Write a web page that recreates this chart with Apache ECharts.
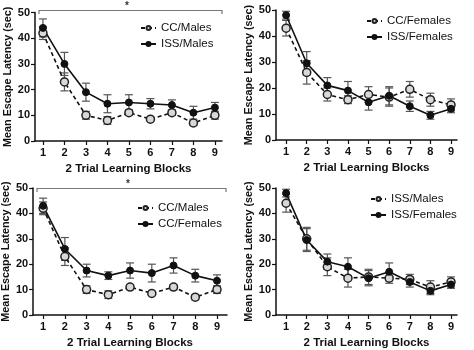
<!DOCTYPE html>
<html><head><meta charset="utf-8">
<script src="https://cdn.jsdelivr.net/npm/echarts@6/dist/echarts.min.js"></script>
<style>html,body{margin:0;padding:0;background:#fff}#c{width:474px;height:350px}</style>
</head><body><div id="c"></div>
<script>
const blocks = [1,2,3,4,5,6,7,8,9];
const yTicks = [0,10,20,30,40,50];
const ccMales      = [42, 23, 10, 8, 11, 8.5, 11, 7, 10];
const ccMalesErr   = [2.5, 3.5, 1.5, 1.5, 1, 0.7, 1, 1, 1.5];
const issMales     = [44, 30, 19, 14.5, 15, 14.5, 14, 11, 13];
const issMalesErr  = [3.5, 4.5, 3.5, 3.5, 3, 2, 2, 2.5, 2];
const ccFemales    = [43, 26, 17.5, 15.5, 17.5, 16.5, 19.5, 15.5, 13.5];
const ccFemalesErr = [3, 4.5, 2.5, 1.5, 3, 3.5, 3, 2.5, 2.3];
const issFemales   = [48, 29.5, 21, 19, 14.5, 17, 13, 9.5, 12];
const issFemalesErr= [1.5, 4.5, 3, 3.5, 3, 3.5, 2, 1.5, 1.5];

const panels = [
  {grid:{left:35, top:12.5, width:187, height:128.5}, xr:[0.63,9.33], a:['CC/Males',ccMales,ccMalesErr], b:['ISS/Males',issMales,issMalesErr], leg:{left:135, top:17}},
  {grid:{left:276, top:10, width:181, height:130}, xr:[0.51,9.29], a:['CC/Females',ccFemales,ccFemalesErr], b:['ISS/Females',issFemales,issFemalesErr], leg:{left:361, top:10}},
  {grid:{left:33, top:188, width:194, height:129}, xr:[0.54,9.46], a:['CC/Males',ccMales,ccMalesErr], b:['CC/Females',ccFemales,ccFemalesErr], leg:{left:132, top:197}},
  {grid:{left:276, top:188, width:181, height:129}, xr:[0.51,9.29], a:['ISS/Males',issMales,issMalesErr], b:['ISS/Females',issFemales,issFemalesErr], leg:{left:365, top:188}}
];

const font = 'Liberation Sans, Arial, sans-serif';
const grids=[], xAxes=[], yAxes=[], series=[], legends=[];
panels.forEach((p,i)=>{
  grids.push(p.grid);
  xAxes.push({type:'value', gridIndex:i, min:p.xr[0], max:p.xr[1],
    name:'2 Trial Learning Blocks', nameLocation:'middle', nameGap:22,
    nameTextStyle:{fontFamily:font, fontWeight:'bold', fontSize:11.5, color:'#111'},
    axisLine:{lineStyle:{color:'#111', width:1.5}},
    axisTick:{length:4, lineStyle:{color:'#111', width:1.2}, customValues:blocks},
    axisLabel:{fontFamily:font, fontWeight:'bold', fontSize:11, color:'#111', margin:6, customValues:blocks},
    splitLine:{show:false}});
  yAxes.push({type:'value', gridIndex:i, min:0, max:50, interval:10,
    name:'Mean Escape Latency (sec)', nameLocation:'middle', nameGap:21,
    nameTextStyle:{fontFamily:font, fontWeight:'bold', fontSize:10.8, color:'#111'},
    axisLine:{show:true, lineStyle:{color:'#111', width:1.5}},
    axisTick:{show:true, length:4, lineStyle:{color:'#111', width:1.2}},
    axisLabel:{fontFamily:font, fontWeight:'bold', fontSize:11, color:'#111', margin:5},
    splitLine:{show:false}});
  const names = [];
  [[p.a,true],[p.b,false]].forEach(([s,dashed])=>{
    const [label, vals, errs] = s;
    const name = label + '\u200b'.repeat(i);
    names.push(name);
    series.push({type:'custom', xAxisIndex:i, yAxisIndex:i, silent:true, z:1,
      data: blocks.map((b,k)=>[b, vals[k]-errs[k], vals[k]+errs[k]]),
      renderItem:(params, api)=>{
        const lo = api.coord([api.value(0), api.value(1)]);
        const hi = api.coord([api.value(0), api.value(2)]);
        const w = 4;
        const st = {stroke:'#555', lineWidth:1.2};
        return {type:'group', children:[
          {type:'line', shape:{x1:lo[0],y1:lo[1],x2:hi[0],y2:hi[1]}, style:st},
          {type:'line', shape:{x1:lo[0]-w,y1:lo[1],x2:lo[0]+w,y2:lo[1]}, style:st},
          {type:'line', shape:{x1:hi[0]-w,y1:hi[1],x2:hi[0]+w,y2:hi[1]}, style:st}
        ]};
      }});
    series.push({type:'line', name:name, xAxisIndex:i, yAxisIndex:i, z:3,
      data: blocks.map((b,k)=>[b, vals[k]]),
      symbol:'circle', symbolSize: dashed?8:7,
      lineStyle:{color:'#111', width:1.6, type: dashed?[4,3]:'solid'},
      itemStyle: dashed ? {color:'#d8d8d8', borderColor:'#222', borderWidth:1.5} : {color:'#111', borderColor:'#111', borderWidth:1},
      emphasis:{disabled:true}, animation:false});
  });
  legends.push({left:p.leg.left, top:p.leg.top, orient:'vertical', data:names,
    itemWidth:15, itemHeight:5, itemGap:4, selectedMode:false,
    textStyle:{fontFamily:font, fontSize:11.5, color:'#111'}});
});

const chart = echarts.init(document.getElementById('c'), null, {renderer:'canvas'});
chart.setOption({animation:false, grid:grids, xAxis:xAxes, yAxis:yAxes, series:series, legend:legends,
  graphic:[
    {type:'polyline', shape:{points:[[39,14],[39,10.5],[222,10.5],[222,14]]}, style:{stroke:'#777', lineWidth:1.2, fill:null}},
    {type:'text', left:125, top:1, style:{text:'*', font:'bold 10px Liberation Sans', fill:'#333'}},
    {type:'polyline', shape:{points:[[37,192],[37,188.5],[226,188.5],[226,192]]}, style:{stroke:'#777', lineWidth:1.2, fill:null}},
    {type:'text', left:126, top:179, style:{text:'*', font:'bold 10px Liberation Sans', fill:'#333'}}
  ]});
</script></body></html>
